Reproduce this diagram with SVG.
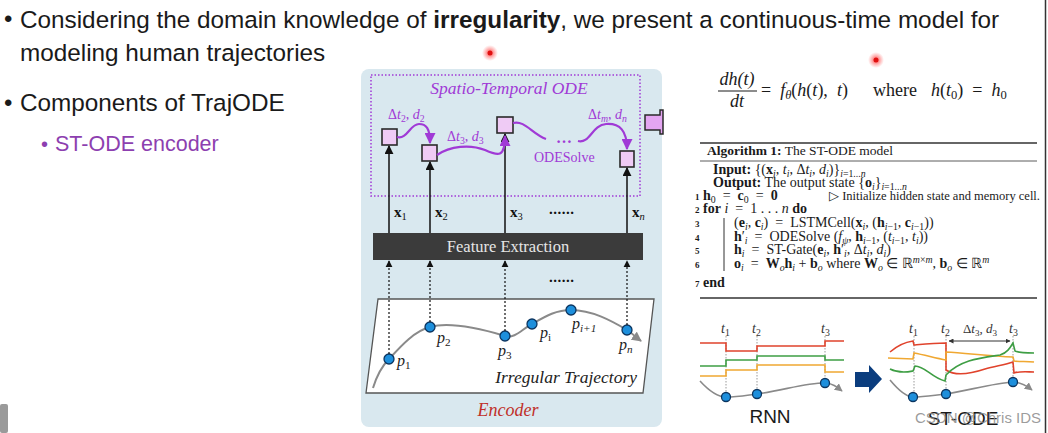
<svg xmlns="http://www.w3.org/2000/svg" width="1048" height="433" viewBox="0 0 1048 433">
<style>
.sans{font-family:"Liberation Sans",Arial,sans-serif}
.serif{font-family:"Liberation Serif","Times New Roman",serif}
.b{font-weight:bold}
.i{font-style:italic}
.sb{font-size:70%;baseline-shift:-3px}
.sp{font-size:70%;baseline-shift:5px}
.alg{font-size:14px;fill:#1a1a1a}
.cm{font-size:12.5px;fill:#1a1a1a}
.ln{font-size:9px;font-weight:bold;fill:#1a1a1a}
.purple{fill:#a03ad6}
.pt{fill:#1d8fdc;stroke:#0b3560;stroke-width:1.3}
.sq{fill:#efcbf5;stroke:#2a2a2a;stroke-width:1.6}
.dot{stroke:#999;stroke-width:1;stroke-dasharray:1.5,1.5}
</style>
<defs>
<marker id="ab" viewBox="0 0 10 10" refX="9" refY="5" markerWidth="6" markerHeight="6" orient="auto"><path d="M0,0 L10,5 L0,10 Z" fill="#111"/></marker>
<marker id="ap" viewBox="0 0 10 10" refX="9" refY="5" markerWidth="5" markerHeight="5" orient="auto"><path d="M0,0 L10,5 L0,10 Z" fill="#a03ad6"/></marker>
<marker id="ag" viewBox="0 0 10 10" refX="9" refY="5" markerWidth="5" markerHeight="5" orient="auto"><path d="M0,0 L10,5 L0,10 Z" fill="#8a8a8a"/></marker>
<marker id="ak" viewBox="0 0 10 10" refX="9" refY="5" markerWidth="5" markerHeight="5" orient="auto-start-reverse"><path d="M0,0 L10,5 L0,10 Z" fill="#333"/></marker>
<radialGradient id="glow"><stop offset="0" stop-color="#ff3030" stop-opacity="0.9"/><stop offset="1" stop-color="#ff6060" stop-opacity="0"/></radialGradient>
</defs>
<rect width="1048" height="433" fill="#fff"/>

<!-- slide text -->
<g id="slide-text" class="sans">
<text x="4" y="27" font-size="24" fill="#1a1a1a">•</text>
<text x="20" y="28" font-size="24.3" fill="#1a1a1a">Considering the domain knowledge of <tspan class="b">irregularity</tspan>, we present a continuous-time model for</text>
<text x="20" y="61" font-size="24.3" fill="#1a1a1a">modeling human trajectories</text>
<text x="4" y="111" font-size="24" fill="#1a1a1a">•</text>
<text x="20" y="111" font-size="24.3" fill="#1a1a1a">Components of TrajODE</text>
<text x="41" y="151" font-size="20" fill="#8d3fb0">•</text>
<text x="55" y="151" font-size="21.5" fill="#8d3fb0">ST-ODE encoder</text>
</g>
<rect x="0" y="404" width="8" height="29" rx="2" fill="#9a9a9a"/>
<line x1="1045.5" y1="0" x2="1045.5" y2="433" stroke="#333" stroke-width="1.5"/>

<!-- laser pointer dots -->
<circle cx="490" cy="53" r="8" fill="url(#glow)"/>
<circle cx="490" cy="53" r="2.5" fill="#e01010"/>
<circle cx="876" cy="60" r="8" fill="url(#glow)"/>
<circle cx="876" cy="60" r="2.5" fill="#e01010"/>

<!-- Encoder panel -->
<g id="encoder">
<rect x="361" y="69" width="301" height="358" rx="8" fill="#d9e8ef"/>
<text x="508" y="416" text-anchor="middle" class="serif i" font-size="18" fill="#c0302a">Encoder</text>
</g>
<g id="st-ode-box">
<rect x="371" y="75" width="269" height="121" fill="none" stroke="#a03ad6" stroke-width="1.5" stroke-dasharray="1.5,2"/>
<text x="509" y="94" text-anchor="middle" class="serif i purple" font-size="17.5">Spatio-Temporal ODE</text>
</g>
<g id="out-arrow">
<path d="M645,115 H660 V110 H663 V134 H660 V130 H645 Z" fill="#e4a6f2" stroke="#2a2a2a" stroke-width="1.5"/>
</g>
<g id="h1"><rect class="sq" x="382" y="129" width="15" height="16"/></g>
<g id="h2"><rect class="sq" x="422" y="145" width="15" height="16"/></g>
<g id="h3"><rect class="sq" x="497" y="117" width="16" height="16"/></g>
<g id="hn"><rect class="sq" x="620" y="151" width="14" height="16"/></g>

<g id="feature-extraction">
<rect x="373" y="233" width="270" height="27" fill="#3b3b3b"/>
<text x="508" y="252" text-anchor="middle" class="serif" font-size="16.5" fill="#e6e6e6">Feature Extraction</text>
</g>

<g id="trajectory">
<polygon points="378,299 654,299 643,393 366,393" fill="#fff" stroke="#555" stroke-width="1.3"/>
<path d="M373,388 C377,375 382,366 389,359 C400,347 414,331 430,327 C452,321 485,330 505,336 C515,339 522,329 532,324 C546,316 556,310 571,310 C592,310 612,321 627,330 C633,334 637,338 641,341" fill="none" stroke="#8a8a8a" stroke-width="2" marker-end="url(#ag)"/>
<circle class="pt" cx="389" cy="359" r="5"/>
<circle class="pt" cx="430" cy="327" r="5"/>
<circle class="pt" cx="505" cy="336" r="5"/>
<circle class="pt" cx="532" cy="324" r="5"/>
<circle class="pt" cx="571" cy="310" r="5"/>
<circle class="pt" cx="627" cy="330" r="5"/>
<g class="serif i" font-size="16" fill="#222">
<text x="397" y="366">p<tspan class="sb" style="font-style:normal">1</tspan></text>
<text x="437" y="343">p<tspan class="sb" style="font-style:normal">2</tspan></text>
<text x="498" y="356">p<tspan class="sb" style="font-style:normal">3</tspan></text>
<text x="540" y="338">p<tspan class="sb" style="font-style:normal">i</tspan></text>
<text x="572" y="329">p<tspan class="sb">i+1</tspan></text>
<text x="619" y="350">p<tspan class="sb">n</tspan></text>
</g>
<text x="637" y="383" text-anchor="end" class="serif i" font-size="17.5" fill="#222">Irregular Trajectory</text>
</g>

<!-- connectors -->
<g id="connectors">
<g stroke="#111" stroke-width="1.5" fill="none" marker-end="url(#ab)">
<line x1="389" y1="233" x2="389" y2="146"/>
<line x1="430" y1="233" x2="430" y2="162"/>
<line x1="505" y1="233" x2="505" y2="134"/>
<line x1="627" y1="233" x2="627" y2="168"/>
</g>
<g stroke="#111" stroke-width="1.2" fill="none" stroke-dasharray="2,2" marker-end="url(#ab)">
<line x1="389" y1="354" x2="389" y2="261"/>
<line x1="430" y1="322" x2="430" y2="261"/>
<line x1="505" y1="331" x2="505" y2="261"/>
<line x1="627" y1="325" x2="627" y2="261"/>
</g>
<g stroke="#a03ad6" stroke-width="2.2" fill="none">
<path d="M397,137 C407,140 410,124 419,124 C426,124 430,128 430,143" marker-end="url(#ap)"/>
<path d="M437,155 C450,146 470,144 485,150 C498,156 505,158 505,136" marker-end="url(#ap)"/>
<path d="M513,123 C525,120 532,134 546,139"/>
<path d="M578,141 C590,144 592,125 606,124 C620,123 627,131 627,149" marker-end="url(#ap)"/>
</g>
<g class="serif purple" font-size="14">
<text x="388" y="119">Δ<tspan class="i">t</tspan><tspan class="sb">2</tspan>, <tspan class="i">d</tspan><tspan class="sb">2</tspan></text>
<text x="447" y="141">Δ<tspan class="i">t</tspan><tspan class="sb">3</tspan>, <tspan class="i">d</tspan><tspan class="sb">3</tspan></text>
<text x="588" y="119">Δ<tspan class="i">t</tspan><tspan class="sb i">m</tspan>, <tspan class="i">d</tspan><tspan class="sb i">n</tspan></text>
<text x="556" y="143" font-size="16" font-weight="bold">…</text>
<text x="534" y="162" font-size="14">ODESolve</text>
</g>
<g class="serif" font-size="15" fill="#111">
<text x="394" y="217"><tspan class="b">x</tspan><tspan class="sb">1</tspan></text>
<text x="435" y="217"><tspan class="b">x</tspan><tspan class="sb">2</tspan></text>
<text x="510" y="217"><tspan class="b">x</tspan><tspan class="sb">3</tspan></text>
<text x="632" y="217"><tspan class="b">x</tspan><tspan class="sb i">n</tspan></text>
<text x="549" y="214" font-weight="bold" letter-spacing="0.5">......</text>
<text x="549" y="282" font-weight="bold" letter-spacing="0.5">......</text>
</g>
</g>

<!-- equation -->
<g id="equation" class="serif" font-size="18" fill="#1a1a1a">
<text x="737" y="85" text-anchor="middle" class="i">dh(t)</text>
<line x1="718" y1="91" x2="757" y2="91" stroke="#1a1a1a" stroke-width="1"/>
<text x="737" y="107" text-anchor="middle" class="i">dt</text>
<text x="761" y="96">=&#8194;<tspan class="i">f</tspan><tspan class="sb i">θ</tspan>(<tspan class="i">h</tspan>(<tspan class="i">t</tspan>),&#8194;<tspan class="i">t</tspan>)</text>
<text x="873" y="96">where</text>
<text x="931" y="96"><tspan class="i">h</tspan>(<tspan class="i">t</tspan><tspan class="sb">0</tspan>)&#8194;=&#8194;<tspan class="i">h</tspan><tspan class="sb">0</tspan></text>
</g>

<!-- algorithm -->
<g id="algorithm" class="serif">
<line x1="700" y1="143" x2="1037" y2="143" stroke="#333" stroke-width="1.4"/>
<line x1="700" y1="161" x2="1037" y2="161" stroke="#333" stroke-width="0.8"/>
<line x1="700" y1="298" x2="1037" y2="298" stroke="#333" stroke-width="1.4"/>
<text x="707" y="155" font-size="13.5" fill="#1a1a1a"><tspan class="b">Algorithm 1:</tspan> The ST-ODE model</text>
<text class="alg" x="713" y="174"><tspan class="b">Input:</tspan> {(<tspan class="b">x</tspan><tspan class="sb i">i</tspan>, <tspan class="i">t</tspan><tspan class="sb i">i</tspan>, Δ<tspan class="i">t</tspan><tspan class="sb i">i</tspan>, <tspan class="i">d</tspan><tspan class="sb i">i</tspan>)}<tspan class="sb"><tspan class="i">i</tspan>=1...<tspan class="i">n</tspan></tspan></text>
<text class="alg" x="713" y="187"><tspan class="b">Output:</tspan> The output state {<tspan class="b">o</tspan><tspan class="sb i">i</tspan>}<tspan class="sb"><tspan class="i">i</tspan>=1...<tspan class="i">n</tspan></tspan></text>
<text class="ln" x="695" y="200">1</text>
<text class="alg" x="703" y="200"><tspan class="b">h</tspan><tspan class="sb">0</tspan>&#8194;=&#8194;<tspan class="b">c</tspan><tspan class="sb">0</tspan>&#8194;=&#8194;<tspan class="b">0</tspan></text>
<text class="cm" x="829" y="200">▷ Initialize hidden state and memory cell.</text>
<text class="ln" x="695" y="213">2</text>
<text class="alg" x="703" y="213"><tspan class="b">for</tspan> <tspan class="i">i</tspan>&#8194;=&#8194;1 . . . <tspan class="i">n</tspan> <tspan class="b">do</tspan></text>
<line x1="724" y1="218" x2="724" y2="271" stroke="#1a1a1a" stroke-width="0.9"/>
<text class="ln" x="695" y="227">3</text>
<text class="alg" x="734" y="227">(<tspan class="b">e</tspan><tspan class="sb i">i</tspan>, <tspan class="b">c</tspan><tspan class="sb i">i</tspan>)&#8194;=&#8194;LSTMCell(<tspan class="b">x</tspan><tspan class="sb i">i</tspan>, (<tspan class="b">h</tspan><tspan class="sb"><tspan class="i">i</tspan>−1</tspan>, <tspan class="b">c</tspan><tspan class="sb"><tspan class="i">i</tspan>−1</tspan>))</text>
<text class="ln" x="695" y="241">4</text>
<text class="alg" x="734" y="241"><tspan class="b">h</tspan>′<tspan class="sb i">i</tspan>&#8194;=&#8194;ODESolve (<tspan class="i">f</tspan><tspan class="sb i">ψ</tspan>, <tspan class="b">h</tspan><tspan class="sb"><tspan class="i">i</tspan>−1</tspan>, (<tspan class="i">t</tspan><tspan class="sb"><tspan class="i">i</tspan>−1</tspan>, <tspan class="i">t</tspan><tspan class="sb i">i</tspan>))</text>
<text class="ln" x="695" y="254">5</text>
<text class="alg" x="734" y="254"><tspan class="b">h</tspan><tspan class="sb i">i</tspan>&#8194;=&#8194;ST-Gate(<tspan class="b">e</tspan><tspan class="sb i">i</tspan>, <tspan class="b">h</tspan>′<tspan class="sb i">i</tspan>, Δ<tspan class="i">t</tspan><tspan class="sb i">i</tspan>, <tspan class="i">d</tspan><tspan class="sb i">i</tspan>)</text>
<text class="ln" x="695" y="268">6</text>
<text class="alg" x="734" y="268"><tspan class="b">o</tspan><tspan class="sb i">i</tspan>&#8194;=&#8194;<tspan class="b">W</tspan><tspan class="sb i">o</tspan><tspan class="b">h</tspan><tspan class="sb i">i</tspan> + <tspan class="b">b</tspan><tspan class="sb i">o</tspan> where <tspan class="b">W</tspan><tspan class="sb i">o</tspan> ∈ ℝ<tspan class="sp"><tspan class="i">m</tspan>×<tspan class="i">m</tspan></tspan>, <tspan class="b">b</tspan><tspan class="sb i">o</tspan> ∈ ℝ<tspan class="sp i">m</tspan></text>
<text class="ln" x="695" y="287">7</text>
<text class="alg" x="703" y="287"><tspan class="b">end</tspan></text>
</g>

<!-- RNN panel -->
<g id="rnn">
<g class="dot"><line x1="726" y1="336" x2="726" y2="397"/><line x1="757" y1="336" x2="757" y2="394"/><line x1="825" y1="336" x2="825" y2="383"/></g>
<g fill="none" stroke-width="1.6">
<path d="M700,343 H726 V351 H757 V346 H825 V341 H844" stroke="#e0432c"/>
<path d="M700,366 H726 V360 H757 V356 H825 V360 H844" stroke="#3e9e44"/>
<path d="M700,376 H726 V370 H757 V365 H825 V372 H844" stroke="#f0a832"/>
<path d="M700,381 C710,392 718,397 726,397 C738,397 748,395 757,394 C785,390 805,383 825,383 C832,383 837,387 842,391" stroke="#8a8a8a" marker-end="url(#ag)"/>
</g>
<circle class="pt" cx="726" cy="397" r="4.5"/><circle class="pt" cx="757" cy="394" r="4.5"/><circle class="pt" cx="825" cy="383" r="4.5"/>
<g class="serif i" font-size="14" fill="#333">
<text x="721" y="333">t<tspan class="sb" style="font-style:normal">1</tspan></text>
<text x="752" y="333">t<tspan class="sb" style="font-style:normal">2</tspan></text>
<text x="821" y="333">t<tspan class="sb" style="font-style:normal">3</tspan></text>
</g>
<text x="770" y="423" text-anchor="middle" class="sans" font-size="19" fill="#1a1a1a">RNN</text>
</g>

<g id="arrow-block">
<polygon points="855,372 869,372 869,365 882,379 869,393 869,387 855,387" fill="#0b3d7e"/>
</g>

<!-- ST-ODE panel -->
<g id="stode">
<g class="dot"><line x1="914" y1="336" x2="914" y2="397"/><line x1="946" y1="336" x2="946" y2="394"/><line x1="1013" y1="336" x2="1013" y2="382"/></g>
<g fill="none" stroke-width="1.6">
<path d="M890,352 C898,345 906,342 913,341 L914,345 C925,344 935,343 946,343 L946,370 C955,376 970,374 985,369 C995,366 1005,365 1013,362 L1014,373 C1020,371 1028,372 1034,372" stroke="#e0432c"/>
<path d="M888,358 L913,359 L914,353 C925,355 935,358 946,360 L946,352 C965,353 990,356 1013,357 L1014,361 C1020,362 1027,361 1034,362" stroke="#f0a832"/>
<path d="M890,369 C900,374 908,372 913,371 L915,366 C925,366 932,378 945,381 L946,375 C960,360 980,358 1000,355 C1007,353 1010,348 1013,343 L1015,351 C1020,353 1027,353 1034,353" stroke="#3e9e44"/>
<path d="M890,380 C900,392 908,397 913,397 C925,397 935,395 946,394 C970,390 995,383 1013,382 C1021,382 1027,386 1032,390" stroke="#8a8a8a" marker-end="url(#ag)"/>
</g>
<line x1="949" y1="341" x2="1010" y2="341" stroke="#333" stroke-width="1" marker-start="url(#ak)" marker-end="url(#ak)"/>
<circle class="pt" cx="913" cy="397" r="4.5"/><circle class="pt" cx="946" cy="394" r="4.5"/><circle class="pt" cx="1013" cy="382" r="4.5"/>
<g class="serif i" font-size="14" fill="#333">
<text x="909" y="333">t<tspan class="sb" style="font-style:normal">1</tspan></text>
<text x="941" y="333">t<tspan class="sb" style="font-style:normal">2</tspan></text>
<text x="1009" y="333">t<tspan class="sb" style="font-style:normal">3</tspan></text>
<text x="980" y="333" text-anchor="middle" font-size="13" style="font-style:normal">Δ<tspan class="i">t</tspan><tspan class="sb">3</tspan>, <tspan class="i">d</tspan><tspan class="sb">3</tspan></text>
</g>
<text x="963" y="425" text-anchor="middle" class="sans" font-size="19" fill="#1a1a1a">ST-ODE</text>
<text x="915" y="423" class="sans" font-size="15" fill="#8a8a8a" fill-opacity="0.85">CSDN @Chris IDS</text>
</g>
</svg>
